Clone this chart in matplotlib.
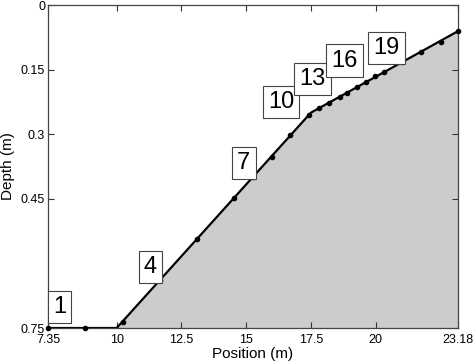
import numpy as np
import matplotlib
matplotlib.use('Agg')
import matplotlib.pyplot as plt

plt.rcParams['font.family'] = ['Liberation Sans', 'DejaVu Sans']

# bathymetry profile (position m, depth m)
profile_x = [7.35, 10.0, 17.5, 23.18]
profile_d = [0.75, 0.75, 0.25, 0.0607]

# gauge positions
gauge_x = [7.35, 8.79, 10.25, 11.67, 13.09, 14.54, 15.28, 15.99, 16.69, 17.43, 17.81,
           18.20, 18.62, 18.91, 19.27, 19.62, 19.98, 20.32, 21.03, 21.76, 22.51, 23.18]
gauge_d = [0.75, 0.75, 0.735, 0.639, 0.543, 0.447, 0.400, 0.352, 0.302, 0.255, 0.240,
           0.228, 0.214, 0.205, 0.191, 0.178, 0.166, 0.155, 0.133, 0.110, 0.085, 0.060]

labelled = [1, 4, 7, 10, 13, 16, 19]
# text offsets (pixels) from the gauge point
label_dx = [18, -3, -3, -15, -14, -8, -3]
label_dy = [10, 2, 3, 2, 7, 10, 3]

xticks = [7.35, 10, 12.5, 15, 17.5, 20, 23.18]
xticklabels = ['7.35', '10', '12.5', '15', '17.5', '20', '23.18']
yticks = [0, 0.15, 0.3, 0.45, 0.75]
yticklabels = ['0', '0.15', '0.3', '0.45', '0.75']

fig = plt.figure(figsize=(4.74, 3.63), dpi=100)
ax = fig.add_axes([0.1013, 0.0964, 0.865, 0.8898])

ax.fill_between(profile_x, profile_d, 0.75, color='#cccccc', lw=0, zorder=1)
ax.plot(profile_x, profile_d, color='k', lw=1.6, zorder=2)
ax.plot(gauge_x, gauge_d, 'o', color='k', ms=3, zorder=3, clip_on=False)

for n, dx, dy in zip(labelled, label_dx, label_dy):
    i = n - 1
    ax.annotate(str(n), xy=(gauge_x[i], gauge_d[i]), xytext=(dx, dy),
                textcoords='offset pixels', ha='right', va='bottom', fontsize=17,
                bbox=dict(boxstyle='square,pad=0.22', facecolor='white',
                          edgecolor='#444444', linewidth=0.8), zorder=4)

ax.set_xlim(7.35, 23.18)
ax.set_ylim(0.75, 0)
ax.set_xticks(xticks)
ax.set_xticklabels(xticklabels)
ax.set_yticks(yticks)
ax.set_yticklabels(yticklabels)
ax.tick_params(direction='in', top=True, right=True, length=4, width=0.8,
               labelsize=9, colors='#333333', labelcolor='k', pad=2)
ax.tick_params(axis='x', pad=4)
for s in ax.spines.values():
    s.set_color('#444444')
    s.set_linewidth(0.9)

ax.set_xlabel('Position (m)', fontsize=11, labelpad=1)
ax.set_ylabel('Depth (m)', fontsize=11, labelpad=4)

fig.savefig('out.png', dpi=100)
